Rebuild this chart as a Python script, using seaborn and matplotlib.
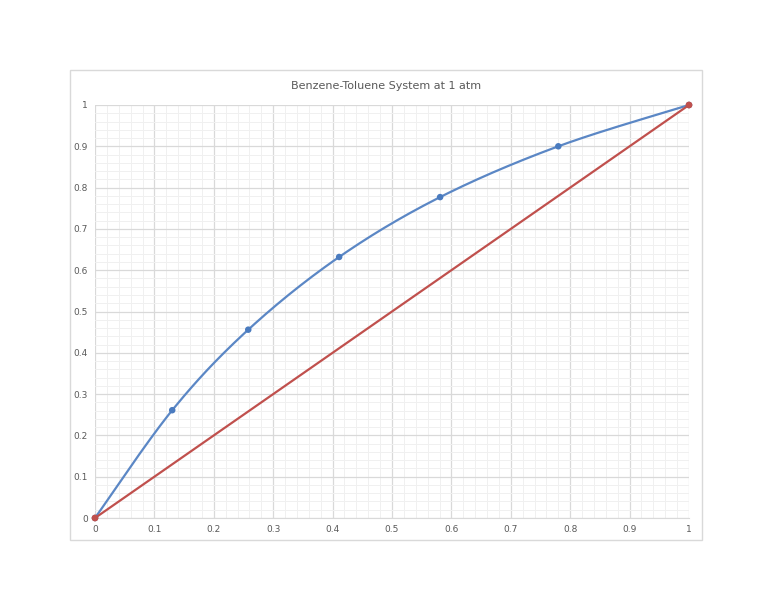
import numpy as np
import matplotlib
matplotlib.use("Agg")
import matplotlib.pyplot as plt
import pandas as pd
import seaborn as sns
from matplotlib.patches import Rectangle
from matplotlib.ticker import MultipleLocator

# equilibrium data
x_liq = [0, 0.13, 0.258, 0.411, 0.581, 0.780, 1]
y_vap = [0, 0.261, 0.456, 0.632, 0.777, 0.900, 1]
diag = [0, 1]

sns.set_style("white")
plt.rcParams['font.family'] = ['DejaVu Sans']


def smooth(xs, ys, n=40):
    # Catmull-Rom curve, like a smoothed Excel line
    px = [xs[0]] + list(xs) + [xs[-1]]
    py = [ys[0]] + list(ys) + [ys[-1]]
    ox, oy = [], []
    for i in range(1, len(px) - 2):
        t = np.linspace(0, 1, n)
        for p, out in ((px, ox), (py, oy)):
            p0, p1, p2, p3 = p[i - 1], p[i], p[i + 1], p[i + 2]
            out.extend(0.5 * ((2 * p1) + (-p0 + p2) * t
                              + (2 * p0 - 5 * p1 + 4 * p2 - p3) * t ** 2
                              + (-p0 + 3 * p1 - 3 * p2 + p3) * t ** 3))
    return ox, oy


fig = plt.figure(figsize=(7.68, 5.94), dpi=100)
fig.patches.append(Rectangle((70 / 768, 1 - 540 / 594), 632 / 768, 470 / 594,
                             transform=fig.transFigure, fill=False,
                             edgecolor="#d9d9d9", linewidth=1))
ax = fig.add_axes([95 / 768, 1 - 518 / 594, 594 / 768, 413 / 594])

ax.xaxis.set_major_locator(MultipleLocator(0.1))
ax.yaxis.set_major_locator(MultipleLocator(0.1))
ax.xaxis.set_minor_locator(MultipleLocator(0.02))
ax.yaxis.set_minor_locator(MultipleLocator(0.02))
ax.grid(which="major", color="#d9d9d9", linewidth=0.9)
ax.grid(which="minor", color="#f0f0f0", linewidth=0.7)
ax.set_axisbelow(True)

sx, sy = smooth(x_liq, y_vap)
curve = pd.DataFrame({"x": sx, "y": sy})
sns.lineplot(data=curve, x="x", y="y", ax=ax, color="#5b87c5", linewidth=1.6,
             sort=False, estimator=None)
sns.scatterplot(x=x_liq, y=y_vap, ax=ax, color="#4a7bbf", s=22,
                edgecolor="none", clip_on=False, zorder=4)

sns.lineplot(x=diag, y=diag, ax=ax, color="#c0504d", linewidth=1.6)
sns.scatterplot(x=diag, y=diag, ax=ax, color="#c0504d", s=24,
                edgecolor="none", clip_on=False, zorder=5)

ax.set_xlim(0, 1)
ax.set_ylim(0, 1)
ax.set_xlabel("")
ax.set_ylabel("")
for s in ["top", "right", "left"]:
    ax.spines[s].set_visible(False)
ax.spines["bottom"].set_color("#d9d9d9")
ax.tick_params(which="both", length=0, labelsize=6.5, labelcolor="#595959", pad=5)
ticks = [0, 0.1, 0.2, 0.3, 0.4, 0.5, 0.6, 0.7, 0.8, 0.9, 1]
labels = ["0", "0.1", "0.2", "0.3", "0.4", "0.5", "0.6", "0.7", "0.8", "0.9", "1"]
ax.set_xticks(ticks, labels)
ax.set_yticks(ticks, labels)

fig.text(386 / 768, 1 - 86 / 594, "Benzene-Toluene System at 1 atm",
         ha="center", va="center", fontsize=8, color="#595959")

fig.savefig("out.png", dpi=100)
